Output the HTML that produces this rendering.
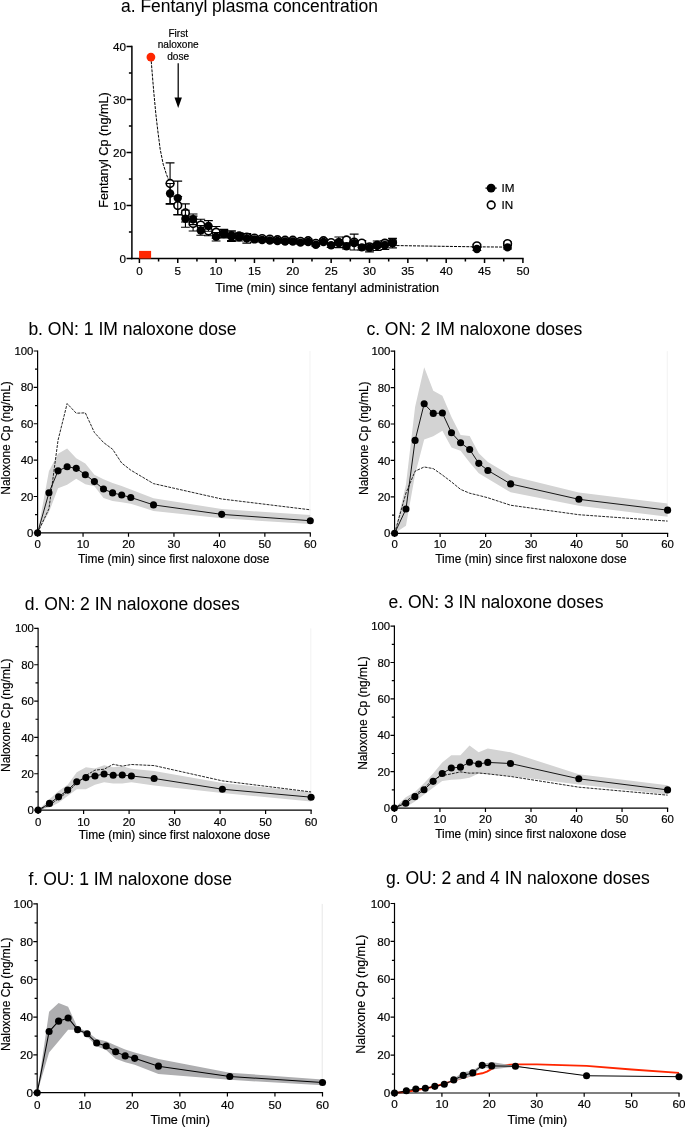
<!DOCTYPE html>
<html lang="en"><head><meta charset="utf-8"><title>Fentanyl and naloxone plasma concentrations</title>
<style>html,body{margin:0;padding:0;background:#fff}body{width:685px;height:1127px;overflow:hidden}svg{display:block}text{font-family:"Liberation Sans", sans-serif;fill:#000;stroke:#000;stroke-width:0.18px}text.t{stroke-width:0.06px}</style></head><body>
<svg width="685" height="1127" viewBox="0 0 685 1127">
<rect width="685" height="1127" fill="#fff"/>
<text x="121.00" y="12.40" font-size="17.45" text-anchor="start" class="t">a. Fentanyl plasma concentration</text>
<path d="M131.90 45.75V259.25" stroke="#000" stroke-width="1.5" fill="none"/>
<path d="M131.15 258.50H523.65" stroke="#000" stroke-width="1.5" fill="none"/>
<path d="M131.90 258.50h-5.4M131.90 205.50h-5.4M131.90 152.50h-5.4M131.90 99.50h-5.4M131.90 46.50h-5.4M131.90 232.00h-3.0M131.90 179.00h-3.0M131.90 126.00h-3.0M131.90 73.00h-3.0M139.40 258.50v4.6M177.75 258.50v4.6M216.10 258.50v4.6M254.45 258.50v4.6M292.80 258.50v4.6M331.15 258.50v4.6M369.50 258.50v4.6M407.85 258.50v4.6M446.20 258.50v4.6M484.55 258.50v4.6M522.90 258.50v4.6M158.58 258.50v3.0M196.93 258.50v3.0M235.28 258.50v3.0M273.62 258.50v3.0M311.98 258.50v3.0M350.33 258.50v3.0M388.68 258.50v3.0M427.02 258.50v3.0M465.38 258.50v3.0M503.73 258.50v3.0" stroke="#000" stroke-width="1.5" fill="none"/>
<text x="125.90" y="262.69" font-size="11.7" text-anchor="end">0</text>
<text x="125.90" y="209.69" font-size="11.7" text-anchor="end">10</text>
<text x="125.90" y="156.69" font-size="11.7" text-anchor="end">20</text>
<text x="125.90" y="103.69" font-size="11.7" text-anchor="end">30</text>
<text x="125.90" y="50.69" font-size="11.7" text-anchor="end">40</text>
<text x="139.40" y="274.70" font-size="11.7" text-anchor="middle">0</text>
<text x="177.75" y="274.70" font-size="11.7" text-anchor="middle">5</text>
<text x="216.10" y="274.70" font-size="11.7" text-anchor="middle">10</text>
<text x="254.45" y="274.70" font-size="11.7" text-anchor="middle">15</text>
<text x="292.80" y="274.70" font-size="11.7" text-anchor="middle">20</text>
<text x="331.15" y="274.70" font-size="11.7" text-anchor="middle">25</text>
<text x="369.50" y="274.70" font-size="11.7" text-anchor="middle">30</text>
<text x="407.85" y="274.70" font-size="11.7" text-anchor="middle">35</text>
<text x="446.20" y="274.70" font-size="11.7" text-anchor="middle">40</text>
<text x="484.55" y="274.70" font-size="11.7" text-anchor="middle">45</text>
<text x="522.90" y="274.70" font-size="11.7" text-anchor="middle">50</text>
<text transform="translate(107.80,150.00) rotate(-90)" font-size="12.7" text-anchor="middle">Fentanyl Cp (ng/mL)</text>
<text x="327.20" y="291.60" font-size="12.7" text-anchor="middle">Time (min) since fentanyl administration</text>
<text x="178.20" y="36.50" font-size="10.1" text-anchor="middle">First</text>
<text x="178.20" y="48.00" font-size="10.1" text-anchor="middle">naloxone</text>
<text x="178.20" y="59.50" font-size="10.1" text-anchor="middle">dose</text>
<path d="M178.2 63.2V99" stroke="#000" stroke-width="1.25" fill="none"/>
<path d="M174.5 97.4h7.4l-3.7 10.5z" fill="#000"/>
<rect x="139.1" y="250.9" width="12" height="7.6" fill="#ff2600"/>
<polyline points="150.91,57.10 152.44,76.18 153.97,94.20 155.89,114.34 157.73,130.24 160.19,149.32 163.18,164.16 166.40,174.23 170.08,183.50" fill="none" stroke="#000" stroke-width="1.0" stroke-dasharray="3 1.1" stroke-linejoin="round"/>
<polyline points="392.51,245.51 476.88,246.84 507.56,247.10" fill="none" stroke="#000" stroke-width="1.0" stroke-dasharray="3 1.1" stroke-linejoin="round"/>
<path d="M170.08 162.83V204.18M165.68 162.83h8.8M165.68 204.18h8.8M177.75 196.49V214.51M173.35 196.49h8.8M173.35 214.51h8.8M185.42 203.91V221.93M181.02 203.91h8.8M181.02 221.93h8.8M193.09 216.10V230.94M188.69 216.10h8.8M188.69 230.94h8.8M200.76 219.28V230.94M196.36 219.28h8.8M196.36 230.94h8.8M208.43 226.17V235.71M204.03 226.17h8.8M204.03 235.71h8.8M216.10 226.44V238.09M211.70 226.44h8.8M211.70 238.09h8.8M223.77 229.35V237.83M219.37 229.35h8.8M219.37 237.83h8.8M231.44 230.94V240.48M227.04 230.94h8.8M227.04 240.48h8.8M239.11 232.80V239.16M234.71 232.80h8.8M234.71 239.16h8.8M246.78 234.38V239.69M242.38 234.38h8.8M242.38 239.69h8.8M254.45 235.97V240.22M250.05 235.97h8.8M250.05 240.22h8.8M262.12 237.03V240.22M257.72 237.03h8.8M257.72 240.22h8.8M269.79 237.56V240.75M265.39 237.56h8.8M265.39 240.75h8.8M277.46 238.09V241.28M273.06 238.09h8.8M273.06 241.28h8.8M285.13 238.62V241.81M280.73 238.62h8.8M280.73 241.81h8.8M292.80 238.62V241.81M288.40 238.62h8.8M288.40 241.81h8.8M300.47 239.69V242.87M296.07 239.69h8.8M296.07 242.87h8.8M308.14 239.16V242.34M303.74 239.16h8.8M303.74 242.34h8.8M315.81 241.81V244.99M311.41 241.81h8.8M311.41 244.99h8.8M323.48 239.16V242.34M319.08 239.16h8.8M319.08 242.34h8.8M331.15 240.48V244.72M326.75 240.48h8.8M326.75 244.72h8.8M338.82 240.48V244.72M334.42 240.48h8.8M334.42 244.72h8.8M346.49 237.30V242.60M342.09 237.30h8.8M342.09 242.60h8.8M354.16 234.12V250.02M349.76 234.12h8.8M349.76 250.02h8.8M361.83 240.48V245.78M357.43 240.48h8.8M357.43 245.78h8.8M369.50 244.72V248.96M365.10 244.72h8.8M365.10 248.96h8.8M377.17 243.13V247.37M372.77 243.13h8.8M372.77 247.37h8.8M384.84 240.48V245.78M380.44 240.48h8.8M380.44 245.78h8.8M392.51 239.95V245.25M388.11 239.95h8.8M388.11 245.25h8.8M476.88 244.19V247.37M472.48 244.19h8.8M472.48 247.37h8.8M507.56 242.07V245.25M503.16 242.07h8.8M503.16 245.25h8.8" stroke="#000" stroke-width="1.1" fill="none"/>
<circle cx="170.08" cy="183.50" r="3.85" fill="#fff" stroke="#000" stroke-width="1.6"/>
<circle cx="177.75" cy="205.50" r="3.85" fill="#fff" stroke="#000" stroke-width="1.6"/>
<circle cx="185.42" cy="212.92" r="3.85" fill="#fff" stroke="#000" stroke-width="1.6"/>
<circle cx="193.09" cy="223.52" r="3.85" fill="#fff" stroke="#000" stroke-width="1.6"/>
<circle cx="200.76" cy="225.11" r="3.85" fill="#fff" stroke="#000" stroke-width="1.6"/>
<circle cx="208.43" cy="230.94" r="3.85" fill="#fff" stroke="#000" stroke-width="1.6"/>
<circle cx="216.10" cy="232.26" r="3.85" fill="#fff" stroke="#000" stroke-width="1.6"/>
<circle cx="223.77" cy="233.59" r="3.85" fill="#fff" stroke="#000" stroke-width="1.6"/>
<circle cx="231.44" cy="235.71" r="3.85" fill="#fff" stroke="#000" stroke-width="1.6"/>
<circle cx="239.11" cy="235.97" r="3.85" fill="#fff" stroke="#000" stroke-width="1.6"/>
<circle cx="246.78" cy="237.03" r="3.85" fill="#fff" stroke="#000" stroke-width="1.6"/>
<circle cx="254.45" cy="238.09" r="3.85" fill="#fff" stroke="#000" stroke-width="1.6"/>
<circle cx="262.12" cy="238.62" r="3.85" fill="#fff" stroke="#000" stroke-width="1.6"/>
<circle cx="269.79" cy="239.16" r="3.85" fill="#fff" stroke="#000" stroke-width="1.6"/>
<circle cx="277.46" cy="239.69" r="3.85" fill="#fff" stroke="#000" stroke-width="1.6"/>
<circle cx="285.13" cy="240.22" r="3.85" fill="#fff" stroke="#000" stroke-width="1.6"/>
<circle cx="292.80" cy="240.22" r="3.85" fill="#fff" stroke="#000" stroke-width="1.6"/>
<circle cx="300.47" cy="241.28" r="3.85" fill="#fff" stroke="#000" stroke-width="1.6"/>
<circle cx="308.14" cy="240.75" r="3.85" fill="#fff" stroke="#000" stroke-width="1.6"/>
<circle cx="315.81" cy="243.40" r="3.85" fill="#fff" stroke="#000" stroke-width="1.6"/>
<circle cx="323.48" cy="240.75" r="3.85" fill="#fff" stroke="#000" stroke-width="1.6"/>
<circle cx="331.15" cy="242.60" r="3.85" fill="#fff" stroke="#000" stroke-width="1.6"/>
<circle cx="338.82" cy="242.60" r="3.85" fill="#fff" stroke="#000" stroke-width="1.6"/>
<circle cx="346.49" cy="239.95" r="3.85" fill="#fff" stroke="#000" stroke-width="1.6"/>
<circle cx="354.16" cy="242.07" r="3.85" fill="#fff" stroke="#000" stroke-width="1.6"/>
<circle cx="361.83" cy="243.13" r="3.85" fill="#fff" stroke="#000" stroke-width="1.6"/>
<circle cx="369.50" cy="246.84" r="3.85" fill="#fff" stroke="#000" stroke-width="1.6"/>
<circle cx="377.17" cy="245.25" r="3.85" fill="#fff" stroke="#000" stroke-width="1.6"/>
<circle cx="384.84" cy="243.13" r="3.85" fill="#fff" stroke="#000" stroke-width="1.6"/>
<circle cx="392.51" cy="242.60" r="3.85" fill="#fff" stroke="#000" stroke-width="1.6"/>
<circle cx="476.88" cy="245.78" r="3.85" fill="#fff" stroke="#000" stroke-width="1.6"/>
<circle cx="507.56" cy="243.66" r="3.85" fill="#fff" stroke="#000" stroke-width="1.6"/>
<path d="M170.08 183.50V203.65M165.68 183.50h8.8M165.68 203.65h8.8M177.75 181.12V215.04M173.35 181.12h8.8M173.35 215.04h8.8M185.42 210.27V227.23M181.02 210.27h8.8M181.02 227.23h8.8M193.09 213.98V224.58M188.69 213.98h8.8M188.69 224.58h8.8M200.76 225.64V235.18M196.36 225.64h8.8M196.36 235.18h8.8M208.43 220.60V231.20M204.03 220.60h8.8M204.03 231.20h8.8M216.10 232.53V241.01M211.70 232.53h8.8M211.70 241.01h8.8M223.77 229.88V237.30M219.37 229.88h8.8M219.37 237.30h8.8M231.44 230.94V241.54M227.04 230.94h8.8M227.04 241.54h8.8M239.11 233.59V241.01M234.71 233.59h8.8M234.71 241.01h8.8M246.78 233.59V243.13M242.38 233.59h8.8M242.38 243.13h8.8M254.45 236.77V242.07M250.05 236.77h8.8M250.05 242.07h8.8M262.12 237.83V242.07M257.72 237.83h8.8M257.72 242.07h8.8M269.79 238.89V242.07M265.39 238.89h8.8M265.39 242.07h8.8M277.46 239.42V242.60M273.06 239.42h8.8M273.06 242.60h8.8M285.13 239.95V243.13M280.73 239.95h8.8M280.73 243.13h8.8M292.80 239.95V243.13M288.40 239.95h8.8M288.40 243.13h8.8M300.47 241.01V244.19M296.07 241.01h8.8M296.07 244.19h8.8M308.14 240.48V243.66M303.74 240.48h8.8M303.74 243.66h8.8M315.81 243.13V246.31M311.41 243.13h8.8M311.41 246.31h8.8M323.48 240.48V243.66M319.08 240.48h8.8M319.08 243.66h8.8M331.15 243.13V247.37M326.75 243.13h8.8M326.75 247.37h8.8M338.82 237.03V247.63M334.42 237.03h8.8M334.42 247.63h8.8M346.49 243.66V248.96M342.09 243.66h8.8M342.09 248.96h8.8M354.16 241.01V245.25M349.76 241.01h8.8M349.76 245.25h8.8M361.83 244.72V250.02M357.43 244.72h8.8M357.43 250.02h8.8M369.50 243.93V251.88M365.10 243.93h8.8M365.10 251.88h8.8M377.17 241.01V250.55M372.77 241.01h8.8M372.77 250.55h8.8M384.84 241.01V249.49M380.44 241.01h8.8M380.44 249.49h8.8M392.51 238.36V247.90M388.11 238.36h8.8M388.11 247.90h8.8M476.88 247.37V250.55M472.48 247.37h8.8M472.48 250.55h8.8M507.56 245.78V248.96M503.16 245.78h8.8M503.16 248.96h8.8" stroke="#000" stroke-width="1.1" fill="none"/>
<circle cx="170.08" cy="193.57" r="4.2" fill="#000"/>
<circle cx="177.75" cy="198.08" r="4.2" fill="#000"/>
<circle cx="185.42" cy="218.75" r="4.2" fill="#000"/>
<circle cx="193.09" cy="219.28" r="4.2" fill="#000"/>
<circle cx="200.76" cy="230.41" r="4.2" fill="#000"/>
<circle cx="208.43" cy="225.91" r="4.2" fill="#000"/>
<circle cx="216.10" cy="236.77" r="4.2" fill="#000"/>
<circle cx="223.77" cy="233.59" r="4.2" fill="#000"/>
<circle cx="231.44" cy="236.24" r="4.2" fill="#000"/>
<circle cx="239.11" cy="237.30" r="4.2" fill="#000"/>
<circle cx="246.78" cy="238.36" r="4.2" fill="#000"/>
<circle cx="254.45" cy="239.42" r="4.2" fill="#000"/>
<circle cx="262.12" cy="239.95" r="4.2" fill="#000"/>
<circle cx="269.79" cy="240.48" r="4.2" fill="#000"/>
<circle cx="277.46" cy="241.01" r="4.2" fill="#000"/>
<circle cx="285.13" cy="241.54" r="4.2" fill="#000"/>
<circle cx="292.80" cy="241.54" r="4.2" fill="#000"/>
<circle cx="300.47" cy="242.60" r="4.2" fill="#000"/>
<circle cx="308.14" cy="242.07" r="4.2" fill="#000"/>
<circle cx="315.81" cy="244.72" r="4.2" fill="#000"/>
<circle cx="323.48" cy="242.07" r="4.2" fill="#000"/>
<circle cx="331.15" cy="245.25" r="4.2" fill="#000"/>
<circle cx="338.82" cy="242.34" r="4.2" fill="#000"/>
<circle cx="346.49" cy="246.31" r="4.2" fill="#000"/>
<circle cx="354.16" cy="243.13" r="4.2" fill="#000"/>
<circle cx="361.83" cy="247.37" r="4.2" fill="#000"/>
<circle cx="369.50" cy="247.90" r="4.2" fill="#000"/>
<circle cx="377.17" cy="245.78" r="4.2" fill="#000"/>
<circle cx="384.84" cy="245.25" r="4.2" fill="#000"/>
<circle cx="392.51" cy="243.13" r="4.2" fill="#000"/>
<circle cx="476.88" cy="248.96" r="4.2" fill="#000"/>
<circle cx="507.56" cy="247.37" r="4.2" fill="#000"/>
<circle cx="150.91" cy="57.10" r="4.4" fill="#ff2600"/>
<path d="M485.4 188.1h11.4" stroke="#000" stroke-width="1.1"/>
<circle cx="491.1" cy="188.1" r="4.45" fill="#000"/>
<circle cx="491.2" cy="205" r="3.85" fill="#fff" stroke="#000" stroke-width="1.6"/>
<text x="501.40" y="191.90" font-size="11.7" text-anchor="start">IM</text>
<text x="501.40" y="208.60" font-size="11.7" text-anchor="start">IN</text>
<text x="28.40" y="334.80" font-size="17.5" text-anchor="start" class="t">b. ON: 1 IM naloxone dose</text>
<path d="M310.00 351.00V515.07" stroke="#ececec" stroke-width="0.7" fill="none"/>
<polygon points="37.60,532.90 48.96,471.05 58.05,453.77 67.14,448.50 76.23,458.14 85.32,463.41 94.41,474.87 103.50,479.24 112.59,483.06 121.68,485.97 130.77,489.61 153.50,498.34 221.67,509.07 310.30,515.07 310.30,523.99 221.67,518.35 153.50,510.89 130.77,503.80 121.68,502.16 112.59,501.07 103.50,497.98 94.41,486.33 85.32,484.15 76.23,478.69 67.14,484.70 58.05,488.33 48.96,512.16 37.60,532.90" fill="#d3d3d3"/>
<polyline points="37.60,532.90 48.96,508.71 58.05,440.13 67.14,403.57 76.23,413.21 85.32,412.85 94.41,432.49 103.50,442.50 112.59,449.23 121.68,463.05 130.77,470.14 153.50,483.61 221.67,498.98 310.30,509.80" fill="none" stroke="#000" stroke-width="0.85" stroke-dasharray="2.9 1.1" stroke-linejoin="round"/>
<path d="M37.60 350.40V533.50" stroke="#000" stroke-width="1.2" fill="none"/>
<path d="M37.00 532.90H310.90" stroke="#000" stroke-width="1.2" fill="none"/>
<path d="M37.60 532.90h-3.9M37.60 496.52h-3.9M37.60 460.14h-3.9M37.60 423.76h-3.9M37.60 387.38h-3.9M37.60 351.00h-3.9M37.60 514.71h-2.6M37.60 478.33h-2.6M37.60 441.95h-2.6M37.60 405.57h-2.6M37.60 369.19h-2.6M37.60 532.90v3.8M83.05 532.90v3.8M128.50 532.90v3.8M173.95 532.90v3.8M219.40 532.90v3.8M264.85 532.90v3.8M310.30 532.90v3.8" stroke="#000" stroke-width="1.2" fill="none"/>
<text x="33.40" y="536.98" font-size="11.4" text-anchor="end">0</text>
<text x="33.40" y="500.60" font-size="11.4" text-anchor="end">20</text>
<text x="33.40" y="464.22" font-size="11.4" text-anchor="end">40</text>
<text x="33.40" y="427.84" font-size="11.4" text-anchor="end">60</text>
<text x="33.40" y="391.46" font-size="11.4" text-anchor="end">80</text>
<text x="33.40" y="355.08" font-size="11.4" text-anchor="end">100</text>
<text x="37.60" y="547.80" font-size="11.4" text-anchor="middle">0</text>
<text x="83.05" y="547.80" font-size="11.4" text-anchor="middle">10</text>
<text x="128.50" y="547.80" font-size="11.4" text-anchor="middle">20</text>
<text x="173.95" y="547.80" font-size="11.4" text-anchor="middle">30</text>
<text x="219.40" y="547.80" font-size="11.4" text-anchor="middle">40</text>
<text x="264.85" y="547.80" font-size="11.4" text-anchor="middle">50</text>
<text x="310.30" y="547.80" font-size="11.4" text-anchor="middle">60</text>
<text transform="translate(10.30,437.95) rotate(-90)" font-size="11.95" text-anchor="middle">Naloxone Cp (ng/mL)</text>
<text x="173.75" y="562.60" font-size="11.95" text-anchor="middle">Time (min) since first naloxone dose</text>
<polyline points="37.60,532.90 48.96,492.70 58.05,470.87 67.14,466.69 76.23,468.33 85.32,474.69 94.41,481.60 103.50,489.06 112.59,492.88 121.68,495.06 130.77,497.43 153.50,504.89 221.67,514.35 310.30,520.71" fill="none" stroke="#000" stroke-width="0.9" stroke-linejoin="round"/>
<circle cx="37.60" cy="532.90" r="3.55" fill="#000"/>
<circle cx="48.96" cy="492.70" r="3.55" fill="#000"/>
<circle cx="58.05" cy="470.87" r="3.55" fill="#000"/>
<circle cx="67.14" cy="466.69" r="3.55" fill="#000"/>
<circle cx="76.23" cy="468.33" r="3.55" fill="#000"/>
<circle cx="85.32" cy="474.69" r="3.55" fill="#000"/>
<circle cx="94.41" cy="481.60" r="3.55" fill="#000"/>
<circle cx="103.50" cy="489.06" r="3.55" fill="#000"/>
<circle cx="112.59" cy="492.88" r="3.55" fill="#000"/>
<circle cx="121.68" cy="495.06" r="3.55" fill="#000"/>
<circle cx="130.77" cy="497.43" r="3.55" fill="#000"/>
<circle cx="153.50" cy="504.89" r="3.55" fill="#000"/>
<circle cx="221.67" cy="514.35" r="3.55" fill="#000"/>
<circle cx="310.30" cy="520.71" r="3.55" fill="#000"/>
<text x="366.40" y="335.10" font-size="17.5" text-anchor="start" class="t">c. ON: 2 IM naloxone doses</text>
<path d="M667.30 351.10V503.42" stroke="#ececec" stroke-width="0.7" fill="none"/>
<polygon points="394.60,533.30 405.98,484.47 415.08,407.04 424.18,367.13 433.28,390.82 442.38,395.74 451.48,417.06 460.58,434.91 469.68,436.01 478.78,453.13 487.88,461.88 510.62,475.72 578.88,492.49 667.60,503.42 667.60,516.72 578.88,505.79 510.62,492.30 487.88,478.82 478.78,473.17 469.68,462.61 460.58,450.76 451.48,447.48 442.38,430.72 433.28,436.37 424.18,439.47 415.08,474.45 405.98,525.65 394.60,533.30" fill="#d3d3d3"/>
<polyline points="394.60,533.30 405.98,493.03 415.08,471.17 424.18,466.98 433.28,468.62 442.38,475.00 451.48,481.92 460.58,489.39 469.68,493.22 478.78,495.40 487.88,497.77 510.62,505.24 578.88,514.72 667.60,521.09" fill="none" stroke="#000" stroke-width="0.85" stroke-dasharray="2.9 1.1" stroke-linejoin="round"/>
<path d="M394.60 350.50V533.90" stroke="#000" stroke-width="1.2" fill="none"/>
<path d="M394.00 533.30H668.20" stroke="#000" stroke-width="1.2" fill="none"/>
<path d="M394.60 533.30h-3.9M394.60 496.86h-3.9M394.60 460.42h-3.9M394.60 423.98h-3.9M394.60 387.54h-3.9M394.60 351.10h-3.9M394.60 515.08h-2.6M394.60 478.64h-2.6M394.60 442.20h-2.6M394.60 405.76h-2.6M394.60 369.32h-2.6M394.60 533.30v3.8M440.10 533.30v3.8M485.60 533.30v3.8M531.10 533.30v3.8M576.60 533.30v3.8M622.10 533.30v3.8M667.60 533.30v3.8" stroke="#000" stroke-width="1.2" fill="none"/>
<text x="390.40" y="537.38" font-size="11.4" text-anchor="end">0</text>
<text x="390.40" y="500.94" font-size="11.4" text-anchor="end">20</text>
<text x="390.40" y="464.50" font-size="11.4" text-anchor="end">40</text>
<text x="390.40" y="428.06" font-size="11.4" text-anchor="end">60</text>
<text x="390.40" y="391.62" font-size="11.4" text-anchor="end">80</text>
<text x="390.40" y="355.18" font-size="11.4" text-anchor="end">100</text>
<text x="394.60" y="548.00" font-size="11.4" text-anchor="middle">0</text>
<text x="440.10" y="548.00" font-size="11.4" text-anchor="middle">10</text>
<text x="485.60" y="548.00" font-size="11.4" text-anchor="middle">20</text>
<text x="531.10" y="548.00" font-size="11.4" text-anchor="middle">30</text>
<text x="576.60" y="548.00" font-size="11.4" text-anchor="middle">40</text>
<text x="622.10" y="548.00" font-size="11.4" text-anchor="middle">50</text>
<text x="667.60" y="548.00" font-size="11.4" text-anchor="middle">60</text>
<text transform="translate(367.60,438.20) rotate(-90)" font-size="11.95" text-anchor="middle">Naloxone Cp (ng/mL)</text>
<text x="530.90" y="562.80" font-size="11.95" text-anchor="middle">Time (min) since first naloxone dose</text>
<polyline points="394.60,533.30 405.98,509.07 415.08,440.38 424.18,403.76 433.28,413.41 442.38,413.05 451.48,432.73 460.58,442.75 469.68,449.49 478.78,463.34 487.88,470.44 510.62,483.92 578.88,499.32 667.60,510.16" fill="none" stroke="#000" stroke-width="0.9" stroke-linejoin="round"/>
<circle cx="394.60" cy="533.30" r="3.55" fill="#000"/>
<circle cx="405.98" cy="509.07" r="3.55" fill="#000"/>
<circle cx="415.08" cy="440.38" r="3.55" fill="#000"/>
<circle cx="424.18" cy="403.76" r="3.55" fill="#000"/>
<circle cx="433.28" cy="413.41" r="3.55" fill="#000"/>
<circle cx="442.38" cy="413.05" r="3.55" fill="#000"/>
<circle cx="451.48" cy="432.73" r="3.55" fill="#000"/>
<circle cx="460.58" cy="442.75" r="3.55" fill="#000"/>
<circle cx="469.68" cy="449.49" r="3.55" fill="#000"/>
<circle cx="478.78" cy="463.34" r="3.55" fill="#000"/>
<circle cx="487.88" cy="470.44" r="3.55" fill="#000"/>
<circle cx="510.62" cy="483.92" r="3.55" fill="#000"/>
<circle cx="578.88" cy="499.32" r="3.55" fill="#000"/>
<circle cx="667.60" cy="510.16" r="3.55" fill="#000"/>
<text x="24.70" y="609.70" font-size="17.5" text-anchor="start" class="t">d. ON: 2 IN naloxone doses</text>
<path d="M310.80 628.40V792.11" stroke="#ececec" stroke-width="0.7" fill="none"/>
<polygon points="38.10,810.10 49.48,799.20 58.58,791.02 67.67,784.66 76.78,772.31 85.88,767.22 94.97,768.49 104.07,765.22 113.18,767.22 122.28,766.13 131.38,768.85 154.12,771.03 222.38,783.03 311.10,792.11 311.10,801.38 222.38,793.02 154.12,785.39 131.38,782.30 122.28,783.39 113.18,783.39 104.07,782.30 94.97,784.66 85.88,789.20 76.78,789.20 67.67,795.93 58.58,802.65 49.48,807.56 38.10,810.10" fill="#d3d3d3"/>
<polyline points="38.10,810.10 49.48,805.19 58.58,798.65 67.67,791.75 76.78,783.39 85.88,775.58 94.97,770.13 104.07,769.22 113.18,764.31 122.28,766.13 131.38,764.49 154.12,765.58 222.38,780.85 311.10,791.93" fill="none" stroke="#000" stroke-width="0.85" stroke-dasharray="2.9 1.1" stroke-linejoin="round"/>
<path d="M38.10 627.80V810.70" stroke="#000" stroke-width="1.2" fill="none"/>
<path d="M37.50 810.10H311.70" stroke="#000" stroke-width="1.2" fill="none"/>
<path d="M38.10 810.10h-3.9M38.10 773.76h-3.9M38.10 737.42h-3.9M38.10 701.08h-3.9M38.10 664.74h-3.9M38.10 628.40h-3.9M38.10 791.93h-2.6M38.10 755.59h-2.6M38.10 719.25h-2.6M38.10 682.91h-2.6M38.10 646.57h-2.6M38.10 810.10v3.8M83.60 810.10v3.8M129.10 810.10v3.8M174.60 810.10v3.8M220.10 810.10v3.8M265.60 810.10v3.8M311.10 810.10v3.8" stroke="#000" stroke-width="1.2" fill="none"/>
<text x="33.90" y="814.18" font-size="11.4" text-anchor="end">0</text>
<text x="33.90" y="777.84" font-size="11.4" text-anchor="end">20</text>
<text x="33.90" y="741.50" font-size="11.4" text-anchor="end">40</text>
<text x="33.90" y="705.16" font-size="11.4" text-anchor="end">60</text>
<text x="33.90" y="668.82" font-size="11.4" text-anchor="end">80</text>
<text x="33.90" y="632.48" font-size="11.4" text-anchor="end">100</text>
<text x="38.10" y="825.60" font-size="11.4" text-anchor="middle">0</text>
<text x="83.60" y="825.60" font-size="11.4" text-anchor="middle">10</text>
<text x="129.10" y="825.60" font-size="11.4" text-anchor="middle">20</text>
<text x="174.60" y="825.60" font-size="11.4" text-anchor="middle">30</text>
<text x="220.10" y="825.60" font-size="11.4" text-anchor="middle">40</text>
<text x="265.60" y="825.60" font-size="11.4" text-anchor="middle">50</text>
<text x="311.10" y="825.60" font-size="11.4" text-anchor="middle">60</text>
<text transform="translate(10.40,715.25) rotate(-90)" font-size="11.95" text-anchor="middle">Naloxone Cp (ng/mL)</text>
<text x="174.40" y="838.60" font-size="11.95" text-anchor="middle">Time (min) since first naloxone dose</text>
<polyline points="38.10,810.10 49.48,803.38 58.58,796.84 67.67,790.11 76.78,781.75 85.88,777.58 94.97,775.94 104.07,773.94 113.18,775.21 122.28,775.03 131.38,775.94 154.12,778.48 222.38,789.20 311.10,797.20" fill="none" stroke="#000" stroke-width="0.9" stroke-linejoin="round"/>
<circle cx="38.10" cy="810.10" r="3.55" fill="#000"/>
<circle cx="49.48" cy="803.38" r="3.55" fill="#000"/>
<circle cx="58.58" cy="796.84" r="3.55" fill="#000"/>
<circle cx="67.67" cy="790.11" r="3.55" fill="#000"/>
<circle cx="76.78" cy="781.75" r="3.55" fill="#000"/>
<circle cx="85.88" cy="777.58" r="3.55" fill="#000"/>
<circle cx="94.97" cy="775.94" r="3.55" fill="#000"/>
<circle cx="104.07" cy="773.94" r="3.55" fill="#000"/>
<circle cx="113.18" cy="775.21" r="3.55" fill="#000"/>
<circle cx="122.28" cy="775.03" r="3.55" fill="#000"/>
<circle cx="131.38" cy="775.94" r="3.55" fill="#000"/>
<circle cx="154.12" cy="778.48" r="3.55" fill="#000"/>
<circle cx="222.38" cy="789.20" r="3.55" fill="#000"/>
<circle cx="311.10" cy="797.20" r="3.55" fill="#000"/>
<text x="388.50" y="608.10" font-size="17.5" text-anchor="start" class="t">e. ON: 3 IN naloxone doses</text>
<polygon points="394.40,808.10 405.78,797.18 414.89,792.08 423.99,783.35 433.10,773.52 442.21,762.60 451.31,755.32 460.42,755.32 469.52,745.49 478.63,752.23 487.74,748.59 510.50,752.23 578.80,774.25 667.58,785.35 667.58,794.45 578.80,784.44 510.50,775.89 487.74,773.88 478.63,773.52 469.52,777.71 460.42,779.16 451.31,779.71 442.21,780.98 433.10,787.72 423.99,794.63 414.89,801.55 405.78,807.19 394.40,808.10" fill="#d3d3d3"/>
<polyline points="394.40,808.10 405.78,801.37 414.89,794.81 423.99,788.08 433.10,779.71 442.21,775.52 451.31,773.88 460.42,771.88 469.52,773.16 478.63,772.97 487.74,773.88 510.50,776.43 578.80,787.17 667.58,795.18" fill="none" stroke="#000" stroke-width="0.85" stroke-dasharray="2.9 1.1" stroke-linejoin="round"/>
<path d="M394.40 625.50V808.70" stroke="#000" stroke-width="1.2" fill="none"/>
<path d="M393.80 808.10H668.18" stroke="#000" stroke-width="1.2" fill="none"/>
<path d="M394.40 808.10h-3.9M394.40 771.70h-3.9M394.40 735.30h-3.9M394.40 698.90h-3.9M394.40 662.50h-3.9M394.40 626.10h-3.9M394.40 789.90h-2.6M394.40 753.50h-2.6M394.40 717.10h-2.6M394.40 680.70h-2.6M394.40 644.30h-2.6M394.40 808.10v3.8M439.93 808.10v3.8M485.46 808.10v3.8M530.99 808.10v3.8M576.52 808.10v3.8M622.05 808.10v3.8M667.58 808.10v3.8" stroke="#000" stroke-width="1.2" fill="none"/>
<text x="390.20" y="812.18" font-size="11.4" text-anchor="end">0</text>
<text x="390.20" y="775.78" font-size="11.4" text-anchor="end">20</text>
<text x="390.20" y="739.38" font-size="11.4" text-anchor="end">40</text>
<text x="390.20" y="702.98" font-size="11.4" text-anchor="end">60</text>
<text x="390.20" y="666.58" font-size="11.4" text-anchor="end">80</text>
<text x="390.20" y="630.18" font-size="11.4" text-anchor="end">100</text>
<text x="394.40" y="822.90" font-size="11.4" text-anchor="middle">0</text>
<text x="439.93" y="822.90" font-size="11.4" text-anchor="middle">10</text>
<text x="485.46" y="822.90" font-size="11.4" text-anchor="middle">20</text>
<text x="530.99" y="822.90" font-size="11.4" text-anchor="middle">30</text>
<text x="576.52" y="822.90" font-size="11.4" text-anchor="middle">40</text>
<text x="622.05" y="822.90" font-size="11.4" text-anchor="middle">50</text>
<text x="667.58" y="822.90" font-size="11.4" text-anchor="middle">60</text>
<text transform="translate(367.10,713.10) rotate(-90)" font-size="11.95" text-anchor="middle">Naloxone Cp (ng/mL)</text>
<text x="530.79" y="838.00" font-size="11.95" text-anchor="middle">Time (min) since first naloxone dose</text>
<polyline points="394.40,808.10 405.78,803.19 414.89,796.63 423.99,789.72 433.10,781.35 442.21,773.52 451.31,768.06 460.42,767.15 469.52,762.24 478.63,764.06 487.74,762.42 510.50,763.51 578.80,778.80 667.58,789.90" fill="none" stroke="#000" stroke-width="0.9" stroke-linejoin="round"/>
<circle cx="394.40" cy="808.10" r="3.55" fill="#000"/>
<circle cx="405.78" cy="803.19" r="3.55" fill="#000"/>
<circle cx="414.89" cy="796.63" r="3.55" fill="#000"/>
<circle cx="423.99" cy="789.72" r="3.55" fill="#000"/>
<circle cx="433.10" cy="781.35" r="3.55" fill="#000"/>
<circle cx="442.21" cy="773.52" r="3.55" fill="#000"/>
<circle cx="451.31" cy="768.06" r="3.55" fill="#000"/>
<circle cx="460.42" cy="767.15" r="3.55" fill="#000"/>
<circle cx="469.52" cy="762.24" r="3.55" fill="#000"/>
<circle cx="478.63" cy="764.06" r="3.55" fill="#000"/>
<circle cx="487.74" cy="762.42" r="3.55" fill="#000"/>
<circle cx="510.50" cy="763.51" r="3.55" fill="#000"/>
<circle cx="578.80" cy="778.80" r="3.55" fill="#000"/>
<circle cx="667.58" cy="789.90" r="3.55" fill="#000"/>
<text x="28.60" y="884.60" font-size="17.5" text-anchor="start" class="t">f. OU: 1 IM naloxone dose</text>
<path d="M322.20 903.90V1079.48" stroke="#dcdcdc" stroke-width="0.7" fill="none"/>
<polygon points="37.20,1092.70 49.09,1011.70 58.60,1003.02 68.11,1006.80 77.62,1027.75 87.13,1031.53 96.64,1038.89 106.15,1041.35 115.66,1045.50 125.17,1049.46 134.68,1052.49 158.45,1059.09 229.78,1072.69 322.50,1079.48 322.50,1085.34 229.78,1079.86 158.45,1074.01 134.68,1064.76 125.17,1062.30 115.66,1058.72 106.15,1050.03 96.64,1046.26 87.13,1036.44 77.62,1029.83 68.11,1029.83 58.60,1041.35 49.09,1052.49 37.20,1092.70" fill="#aeaeb0"/>
<path d="M37.20 903.30V1093.30" stroke="#000" stroke-width="1.2" fill="none"/>
<path d="M36.60 1092.70H323.10" stroke="#000" stroke-width="1.2" fill="none"/>
<path d="M37.20 1092.70h-3.9M37.20 1054.94h-3.9M37.20 1017.18h-3.9M37.20 979.42h-3.9M37.20 941.66h-3.9M37.20 903.90h-3.9M37.20 1073.82h-2.6M37.20 1036.06h-2.6M37.20 998.30h-2.6M37.20 960.54h-2.6M37.20 922.78h-2.6M37.20 1092.70v3.8M84.75 1092.70v3.8M132.30 1092.70v3.8M179.85 1092.70v3.8M227.40 1092.70v3.8M274.95 1092.70v3.8M322.50 1092.70v3.8" stroke="#000" stroke-width="1.2" fill="none"/>
<text x="33.00" y="1096.89" font-size="11.7" text-anchor="end">0</text>
<text x="33.00" y="1059.13" font-size="11.7" text-anchor="end">20</text>
<text x="33.00" y="1021.37" font-size="11.7" text-anchor="end">40</text>
<text x="33.00" y="983.61" font-size="11.7" text-anchor="end">60</text>
<text x="33.00" y="945.85" font-size="11.7" text-anchor="end">80</text>
<text x="33.00" y="908.09" font-size="11.7" text-anchor="end">100</text>
<text x="37.20" y="1108.80" font-size="11.7" text-anchor="middle">0</text>
<text x="84.75" y="1108.80" font-size="11.7" text-anchor="middle">10</text>
<text x="132.30" y="1108.80" font-size="11.7" text-anchor="middle">20</text>
<text x="179.85" y="1108.80" font-size="11.7" text-anchor="middle">30</text>
<text x="227.40" y="1108.80" font-size="11.7" text-anchor="middle">40</text>
<text x="274.95" y="1108.80" font-size="11.7" text-anchor="middle">50</text>
<text x="322.50" y="1108.80" font-size="11.7" text-anchor="middle">60</text>
<text transform="translate(10.30,994.30) rotate(-90)" font-size="11.95" text-anchor="middle">Naloxone Cp (ng/mL)</text>
<text x="180.15" y="1124.20" font-size="12.55" text-anchor="middle">Time (min)</text>
<polyline points="37.20,1092.70 49.09,1031.53 58.60,1021.14 68.11,1017.94 77.62,1029.64 87.13,1033.79 96.64,1043.05 106.15,1046.07 115.66,1051.73 125.17,1055.88 134.68,1058.34 158.45,1066.17 229.78,1076.46 322.50,1082.50" fill="none" stroke="#000" stroke-width="1.05" stroke-linejoin="round"/>
<circle cx="37.20" cy="1092.70" r="3.55" fill="#000"/>
<circle cx="49.09" cy="1031.53" r="3.55" fill="#000"/>
<circle cx="58.60" cy="1021.14" r="3.55" fill="#000"/>
<circle cx="68.11" cy="1017.94" r="3.55" fill="#000"/>
<circle cx="77.62" cy="1029.64" r="3.55" fill="#000"/>
<circle cx="87.13" cy="1033.79" r="3.55" fill="#000"/>
<circle cx="96.64" cy="1043.05" r="3.55" fill="#000"/>
<circle cx="106.15" cy="1046.07" r="3.55" fill="#000"/>
<circle cx="115.66" cy="1051.73" r="3.55" fill="#000"/>
<circle cx="125.17" cy="1055.88" r="3.55" fill="#000"/>
<circle cx="134.68" cy="1058.34" r="3.55" fill="#000"/>
<circle cx="158.45" cy="1066.17" r="3.55" fill="#000"/>
<circle cx="229.78" cy="1076.46" r="3.55" fill="#000"/>
<circle cx="322.50" cy="1082.50" r="3.55" fill="#000"/>
<text x="386.00" y="883.60" font-size="17.5" text-anchor="start" class="t">g. OU: 2 and 4 IN naloxone doses</text>
<polyline points="394.50,1093.00 406.36,1091.86 418.21,1089.78 430.06,1087.50 441.92,1084.47 453.77,1080.68 465.63,1076.89 475.11,1074.62 482.23,1073.29 486.97,1071.59 491.71,1068.93 496.45,1067.04 501.19,1065.90 505.94,1065.14 510.68,1064.67 515.42,1064.39 536.76,1064.39 586.55,1065.90 631.60,1069.50 679.02,1072.91" fill="none" stroke="#ff2600" stroke-width="1.9" stroke-linejoin="round"/>
<polygon points="394.50,1093.00 406.36,1090.73 415.84,1089.02 425.32,1088.26 434.81,1086.37 444.29,1084.28 453.77,1078.60 463.26,1072.15 472.74,1070.45 482.23,1064.20 491.71,1062.11 515.42,1065.90 586.55,1075.76 679.02,1076.70 679.02,1076.70 586.55,1075.76 515.42,1066.66 491.71,1069.50 482.23,1066.47 472.74,1075.94 463.26,1078.60 453.77,1081.25 444.29,1084.28 434.81,1086.37 425.32,1088.26 415.84,1089.02 406.36,1090.73 394.50,1093.00" fill="#aeaeb0"/>
<path d="M394.50 902.90V1093.60" stroke="#000" stroke-width="1.2" fill="none"/>
<path d="M393.90 1093.00H679.62" stroke="#000" stroke-width="1.2" fill="none"/>
<path d="M394.50 1093.00h-3.9M394.50 1055.10h-3.9M394.50 1017.20h-3.9M394.50 979.30h-3.9M394.50 941.40h-3.9M394.50 903.50h-3.9M394.50 1074.05h-2.6M394.50 1036.15h-2.6M394.50 998.25h-2.6M394.50 960.35h-2.6M394.50 922.45h-2.6M394.50 1093.00v3.8M441.92 1093.00v3.8M489.34 1093.00v3.8M536.76 1093.00v3.8M584.18 1093.00v3.8M631.60 1093.00v3.8M679.02 1093.00v3.8" stroke="#000" stroke-width="1.2" fill="none"/>
<text x="390.30" y="1097.19" font-size="11.7" text-anchor="end">0</text>
<text x="390.30" y="1059.29" font-size="11.7" text-anchor="end">20</text>
<text x="390.30" y="1021.39" font-size="11.7" text-anchor="end">40</text>
<text x="390.30" y="983.49" font-size="11.7" text-anchor="end">60</text>
<text x="390.30" y="945.59" font-size="11.7" text-anchor="end">80</text>
<text x="390.30" y="907.69" font-size="11.7" text-anchor="end">100</text>
<text x="394.50" y="1107.90" font-size="11.7" text-anchor="middle">0</text>
<text x="441.92" y="1107.90" font-size="11.7" text-anchor="middle">10</text>
<text x="489.34" y="1107.90" font-size="11.7" text-anchor="middle">20</text>
<text x="536.76" y="1107.90" font-size="11.7" text-anchor="middle">30</text>
<text x="584.18" y="1107.90" font-size="11.7" text-anchor="middle">40</text>
<text x="631.60" y="1107.90" font-size="11.7" text-anchor="middle">50</text>
<text x="679.02" y="1107.90" font-size="11.7" text-anchor="middle">60</text>
<text transform="translate(365.40,994.25) rotate(-90)" font-size="12.5" text-anchor="middle">Naloxone Cp (ng/mL)</text>
<text x="537.36" y="1124.00" font-size="12.6" text-anchor="middle">Time (min)</text>
<polyline points="394.50,1093.00 406.36,1090.73 415.84,1089.02 425.32,1088.26 434.81,1086.37 444.29,1084.28 453.77,1079.92 463.26,1075.38 472.74,1072.91 482.23,1065.33 491.71,1065.90 515.42,1066.28 586.55,1075.76 679.02,1076.70" fill="none" stroke="#000" stroke-width="1.0" stroke-linejoin="round"/>
<circle cx="394.50" cy="1093.00" r="3.55" fill="#000"/>
<circle cx="406.36" cy="1090.73" r="3.55" fill="#000"/>
<circle cx="415.84" cy="1089.02" r="3.55" fill="#000"/>
<circle cx="425.32" cy="1088.26" r="3.55" fill="#000"/>
<circle cx="434.81" cy="1086.37" r="3.55" fill="#000"/>
<circle cx="444.29" cy="1084.28" r="3.55" fill="#000"/>
<circle cx="453.77" cy="1079.92" r="3.55" fill="#000"/>
<circle cx="463.26" cy="1075.38" r="3.55" fill="#000"/>
<circle cx="472.74" cy="1072.91" r="3.55" fill="#000"/>
<circle cx="482.23" cy="1065.33" r="3.55" fill="#000"/>
<circle cx="491.71" cy="1065.90" r="3.55" fill="#000"/>
<circle cx="515.42" cy="1066.28" r="3.55" fill="#000"/>
<circle cx="586.55" cy="1075.76" r="3.55" fill="#000"/>
<circle cx="679.02" cy="1076.70" r="3.55" fill="#000"/>
</svg></body></html>
